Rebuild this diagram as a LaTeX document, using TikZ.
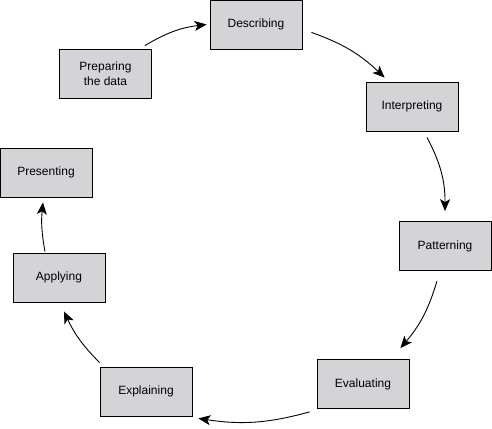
\documentclass[tikz,border=0pt]{standalone}
\usepackage{fontspec}
\setmainfont{Liberation Sans}
\usepackage{xcolor}
\usepackage{tikz}
\usetikzlibrary{arrows.meta,calc}
\definecolor{boxgray}{HTML}{D4D4D6}

\begin{document}
\begin{tikzpicture}[x=1pt, y=1pt,
    stage/.style={draw=black, fill=boxgray, line width=0.8pt, minimum width=92pt, minimum height=49pt, align=center, font=\fontsize{12}{15}\selectfont},
    flow/.style={line width=0.9pt, -{Stealth[length=12pt, width=10pt, inset=3pt]}}]
      \useasboundingbox (0,0) rectangle (492,428);

      % the stages, clockwise from the top left
      \node[stage] (prep) at (105.5, 354.5) {Preparing\\the data};
      \node[stage] (desc) at (256, 403.5) {Describing};
      \node[stage] (interp) at (412, 321.5) {Interpreting};
      \node[stage] (pattern) at (445, 182) {Patterning};
      \node[stage] (eval) at (363, 44) {Evaluating};
      \node[stage] (explain) at (146, 36.5) {Explaining};
      \node[stage] (apply) at (59, 150.5) {Applying};
      \node[stage] (present) at (46, 255.5) {Presenting};

      % the cycle
      \draw[flow] ($(prep.north east)+(-7,3)$) to[bend left=12] ($(desc.west)+(-3,0)$);
      \draw[flow] ($(desc.south east)+(9,17)$) to[bend left=12] ($(interp.north west)+(19,4)$);
      \draw[flow] ($(interp.south)+(15,-6)$) to[bend left=14] ($(pattern.north)+(0,10)$);
      \draw[flow] ($(pattern.south)+(-8,-10)$) to[bend left=12] ($(eval.north east)+(-9,11)$);
      \draw[flow] ($(eval.south west)+(-7,-3)$) to[bend left=12] ($(explain.south east)+(6,-2)$);
      \draw[flow] ($(explain.north west)+(0,4)$) to[bend left=10] ($(apply.south)+(5,-9)$);
      \draw[flow] ($(apply.north)+(-14,1)$) to[bend left=8] ($(present.south)+(-3,-5)$);
    \end{tikzpicture}
\end{document}
